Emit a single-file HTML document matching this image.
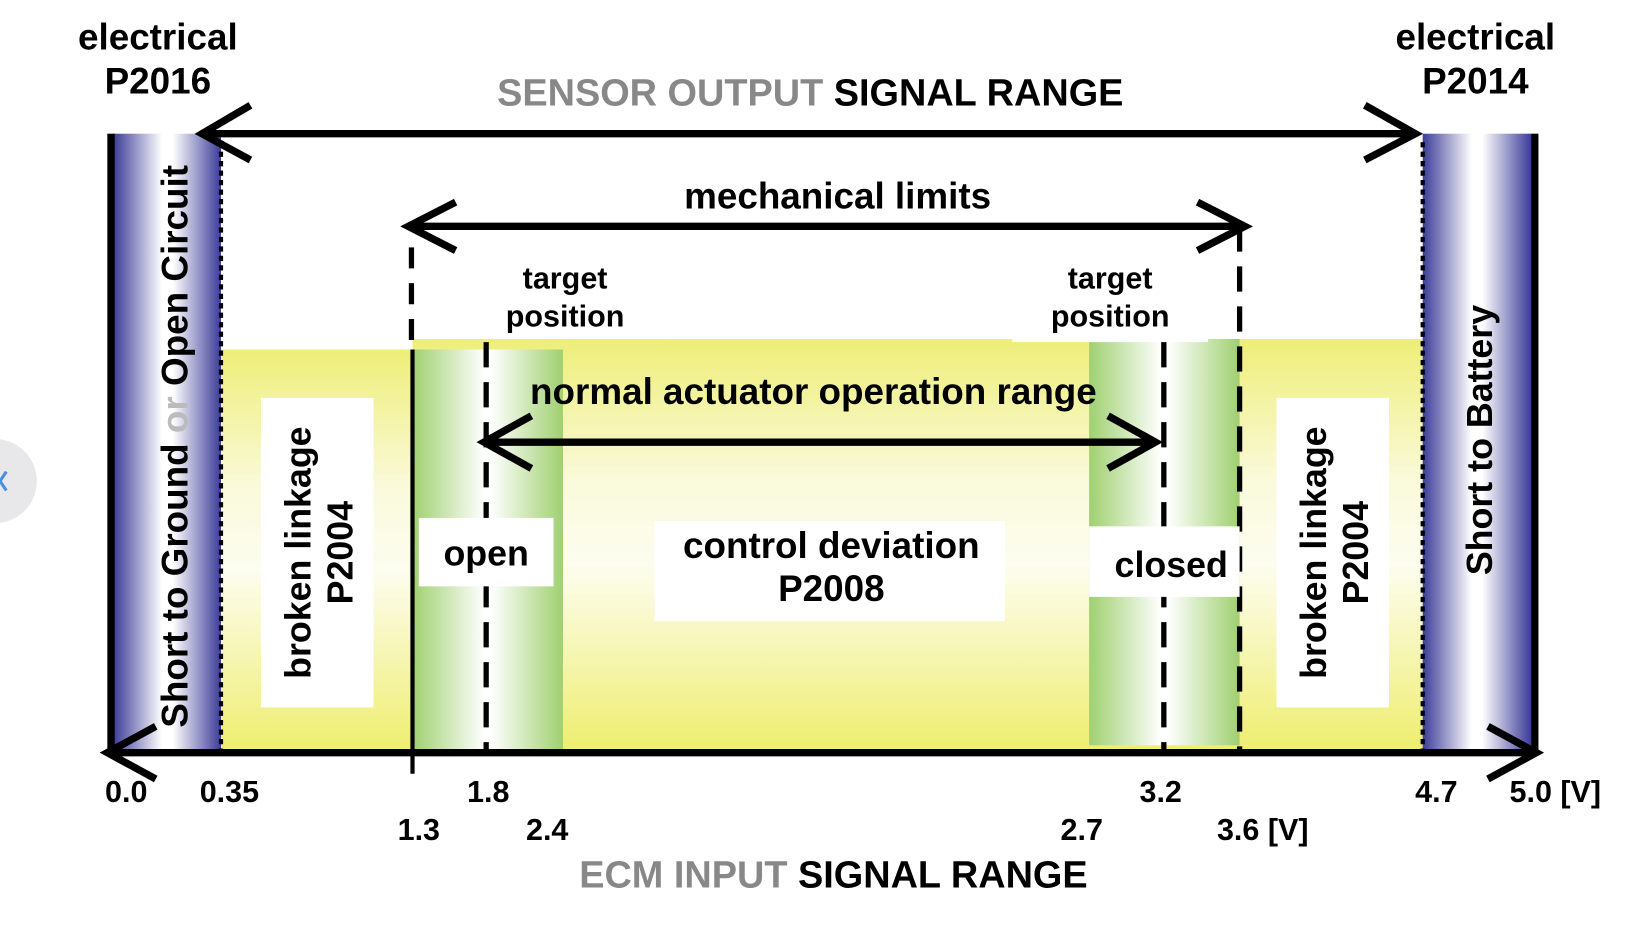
<!DOCTYPE html>
<html><head><meta charset="utf-8"><style>html,body{margin:0;padding:0;background:#fff;overflow:hidden}svg{display:block}text{font-family:"Liberation Sans",Arial,sans-serif;font-weight:bold}</style></head>
<body>
<svg width="1650" height="939" viewBox="0 0 1568 892" preserveAspectRatio="none" xmlns="http://www.w3.org/2000/svg">
<defs>
<linearGradient id="blue" x1="0" x2="1" y1="0" y2="0">
<stop offset="0" stop-color="#3c3c98"/><stop offset="0.45" stop-color="#ffffff"/><stop offset="0.55" stop-color="#ffffff"/><stop offset="1" stop-color="#3c3c98"/></linearGradient>
<linearGradient id="yel" x1="0" x2="0" y1="0" y2="1">
<stop offset="0" stop-color="#eeee78"/><stop offset="0.35" stop-color="#fafadc"/><stop offset="0.55" stop-color="#fdfdf0"/><stop offset="1" stop-color="#eeee70"/></linearGradient>
<linearGradient id="grn" x1="0" x2="1" y1="0" y2="0">
<stop offset="0" stop-color="#9fd070"/><stop offset="0.48" stop-color="#ffffff"/><stop offset="0.52" stop-color="#ffffff"/><stop offset="1" stop-color="#9fd070"/></linearGradient>
</defs>
<rect width="1568" height="892" fill="#fff"/>
<circle cx="-5" cy="457" r="40" fill="#e8e8ea"/>
<path d="M6 448 L0 457 L6 466" stroke="#4a8fe0" stroke-width="3" fill="none"/>
<rect x="210" y="332" width="182" height="380" fill="url(#yel)"/>
<rect x="392" y="322" width="960" height="390" fill="url(#yel)"/>
<rect x="392" y="332" width="143" height="380" fill="url(#grn)"/>
<rect x="1035" y="322" width="143" height="386" fill="url(#grn)"/>
<rect x="410" y="240" width="220" height="82" fill="#fff"/>
<rect x="962" y="240" width="186" height="85" fill="#fff"/>
<rect x="248" y="378" width="107" height="294" fill="#fff"/>
<rect x="1213" y="378" width="107" height="294" fill="#fff"/>
<rect x="108" y="127" width="102" height="585" fill="url(#blue)"/>
<rect x="1352" y="127" width="103" height="585" fill="url(#blue)"/>
<rect x="102" y="127" width="7" height="587" fill="#000"/>
<rect x="1455" y="127" width="7" height="587" fill="#000"/>
<line x1="210" y1="135" x2="210" y2="712" stroke="#000" stroke-width="4" stroke-dasharray="5,4"/>
<line x1="1352" y1="135" x2="1352" y2="712" stroke="#000" stroke-width="4" stroke-dasharray="5,4"/>
<line x1="391" y1="235" x2="391" y2="332" stroke="#000" stroke-width="5" stroke-dasharray="20,14"/>
<line x1="392" y1="332" x2="392" y2="735" stroke="#000" stroke-width="4"/>
<line x1="1178" y1="215" x2="1178" y2="712" stroke="#000" stroke-width="5" stroke-dasharray="24,14"/>
<line x1="462" y1="325" x2="462" y2="712" stroke="#000" stroke-width="5" stroke-dasharray="24,14"/>
<line x1="1106" y1="325" x2="1106" y2="712" stroke="#000" stroke-width="5" stroke-dasharray="24,14"/>
<rect x="398" y="492" width="128" height="65" fill="#fff"/>
<rect x="622" y="495" width="333" height="95" fill="#fff"/>
<rect x="1035" y="500" width="143" height="67" fill="#fff"/>
<g stroke="#000" stroke-width="7" fill="none" stroke-linecap="butt">
<line x1="192" y1="127" x2="1345" y2="127"/>
<path d="M238 100 L192 127 L238 152"/><path d="M1297 100 L1345 127 L1297 152"/>
<line x1="388" y1="215" x2="1183" y2="215"/>
<path d="M433 192 L388 215 L433 238"/><path d="M1138 192 L1183 215 L1138 238"/>
<line x1="460" y1="420" x2="1098" y2="420"/>
<path d="M505 395 L460 420 L505 445"/><path d="M1053 395 L1098 420 L1053 445"/>
<line x1="102" y1="715" x2="1460" y2="715"/>
<path d="M148 690 L102 715 L148 740"/><path d="M1414 690 L1460 715 L1414 740"/>
</g>
<g font-size="35" text-anchor="middle" fill="#000">
<text x="150" y="47">electrical</text><text x="150" y="89">P2016</text>
<text x="1402" y="47">electrical</text><text x="1402" y="89">P2014</text>
<text x="770" y="100" font-size="36"><tspan fill="#888">SENSOR OUTPUT</tspan> SIGNAL RANGE</text>
<text x="796" y="198" font-size="35">mechanical limits</text>
<text x="773" y="384" font-size="35">normal actuator operation range</text>
<text x="790" y="530" font-size="35">control deviation</text>
<text x="790" y="571" font-size="35">P2008</text>
<text x="462" y="537" font-size="34">open</text>
<text x="1113" y="548" font-size="34">closed</text>
<text x="792" y="843" font-size="36"><tspan fill="#888">ECM INPUT</tspan> SIGNAL RANGE</text>
</g>
<g font-size="29" text-anchor="middle" fill="#000">
<text x="537" y="274">target</text><text x="537" y="310">position</text>
<text x="1055" y="274">target</text><text x="1055" y="310">position</text>
<text x="120" y="762">0.0</text><text x="218" y="762">0.35</text><text x="464" y="762">1.8</text>
<text x="1103" y="762">3.2</text><text x="1365" y="762">4.7</text><text x="1478" y="762">5.0 [V]</text>
<text x="398" y="798">1.3</text><text x="520" y="798">2.4</text><text x="1028" y="798">2.7</text><text x="1200" y="798">3.6 [V]</text>
</g>
<g font-size="34" text-anchor="middle" fill="#000">
<text transform="translate(178,424) rotate(-90)" font-size="35">Short to Ground <tspan fill="#bbb">or</tspan> Open Circuit</text>
<text transform="translate(295,525) rotate(-90)">broken linkage</text>
<text transform="translate(335,525) rotate(-90)">P2004</text>
<text transform="translate(1260,525) rotate(-90)">broken linkage</text>
<text transform="translate(1300,525) rotate(-90)">P2004</text>
<text transform="translate(1418,418) rotate(-90)">Short to Battery</text>
</g>
</svg>
</body></html>
